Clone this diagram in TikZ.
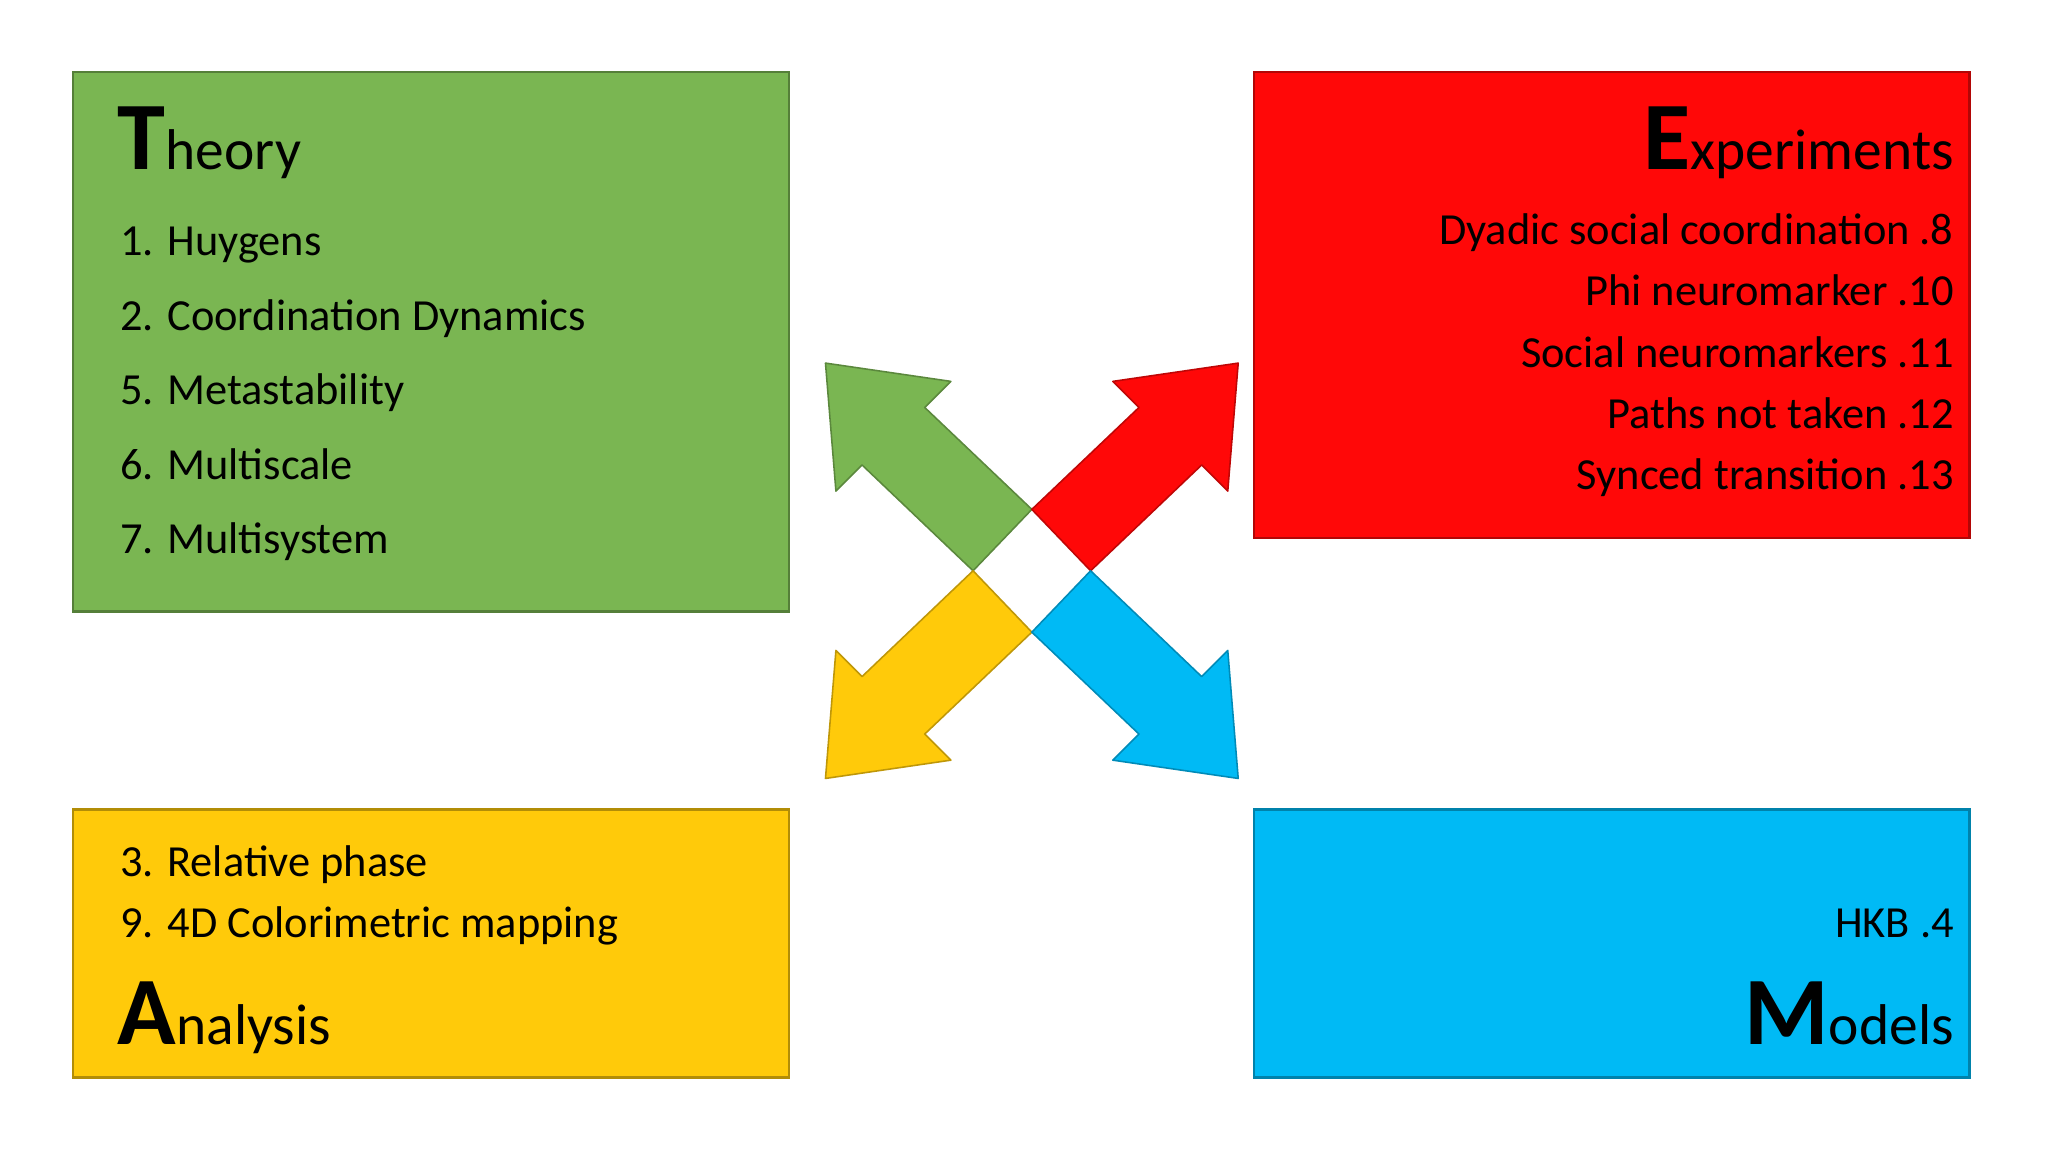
\documentclass[tikz,border=0pt]{standalone}
\usepackage{fontspec}
\setmainfont{Carlito}
\definecolor{tg}{RGB}{122,182,82}
\definecolor{er}{RGB}{255,8,8}
\definecolor{ay}{RGB}{255,202,10}
\definecolor{mb}{RGB}{0,186,245}
\begin{document}
\begin{tikzpicture}[x=1pt,y=-1pt,
 box/.style={draw=#1!70!black,line width=2pt,fill=#1},
 arr/.style={draw=#1!75!black,line width=1.2pt,fill=#1,line join=round},
 txt/.style={font=\fontsize{34}{40}\selectfont,inner sep=0pt},
 big/.style={font=\fontsize{74}{80}\selectfont\bfseries},
 mid/.style={font=\fontsize{44}{50}\selectfont}]
\useasboundingbox (0,0) rectangle (1568,882);
\fill[white] (0,0) rectangle (1568,882);
\draw[box=tg] (56,55) rectangle (604,468);
\draw[box=er] (960,55) rectangle (1508,412);
\draw[box=ay] (56,620) rectangle (604,825);
\draw[box=mb] (960,620) rectangle (1508,825);
% arrows
\draw[arr=tg] (632,278)--(728,292)--(708,312)--(790,390)--(745,437)--(660,356)--(640,376)--cycle;
\draw[arr=er] (948,278)--(852,292)--(872,312)--(790,390)--(835,437)--(920,356)--(940,376)--cycle;
\draw[arr=ay] (632,596)--(728,582)--(708,562)--(790,484)--(745,437)--(660,518)--(640,498)--cycle;
\draw[arr=mb] (948,596)--(852,582)--(872,562)--(790,484)--(835,437)--(920,518)--(940,498)--cycle;
% Theory
\node[anchor=base west,inner sep=0pt] (tt) at (90,130) {{\fontsize{74}{80}\selectfont\bfseries T}{\fontsize{44}{50}\selectfont heory}};
\node[txt,anchor=base west] (t1) at (92,196) {1. Huygens};
\node[txt,anchor=base west] (t2) at (92,253) {2. Coordination Dynamics};
\node[txt,anchor=base west] (t3) at (92,310) {5. Metastability};
\node[txt,anchor=base west] (t4) at (92,367) {6. Multiscale};
\node[txt,anchor=base west] (t5) at (92,424) {7. Multisystem};
% Experiments
\node[anchor=base east,inner sep=0pt] (et) at (1496,130) {{\fontsize{74}{80}\selectfont\bfseries E}{\fontsize{44}{50}\selectfont xperiments}};
\node[txt,anchor=base east] (e1) at (1496,187) {Dyadic social coordination .8};
\node[txt,anchor=base east] (e2) at (1496,234) {Phi neuromarker .10};
\node[txt,anchor=base east] (e3) at (1496,281) {Social neuromarkers .11};
\node[txt,anchor=base east] (e4) at (1496,328) {Paths not taken .12};
\node[txt,anchor=base east] (e5) at (1496,375) {Synced transition .13};
% Analysis
\node[txt,anchor=base west] (a1) at (92,671) {3. Relative phase};
\node[txt,anchor=base west] (a2) at (92,718) {9. 4D Colorimetric mapping};
\node[anchor=base west,inner sep=0pt] (at) at (90,800) {{\fontsize{74}{80}\selectfont\bfseries A}{\fontsize{44}{50}\selectfont nalysis}};
% Models
\node[txt,anchor=base east] (m1) at (1496,718) {HKB .4};
\node[anchor=base east,inner sep=0pt] (mt) at (1496,800) {{\fontsize{74}{80}\selectfont\bfseries M}{\fontsize{44}{50}\selectfont odels}};
\end{tikzpicture}
\end{document}
